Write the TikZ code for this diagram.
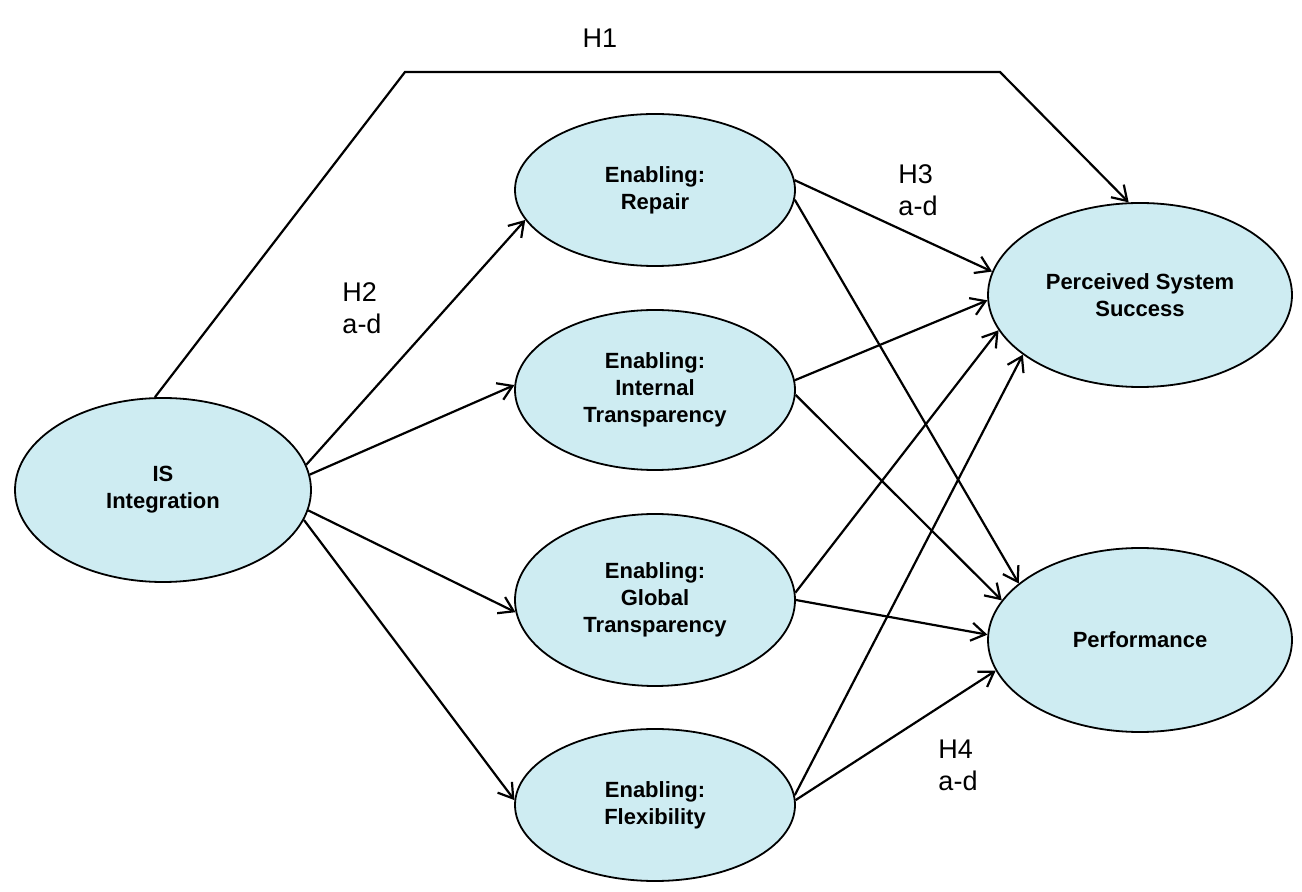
\documentclass[tikz,border=0pt]{standalone}
\usepackage{fontspec}
\setmainfont{Liberation Sans}
\usetikzlibrary{shapes.geometric,arrows.meta}
\definecolor{fillc}{RGB}{206,236,242}
\begin{document}
\begin{tikzpicture}[x=0.5pt,y=-0.5pt,
  ell/.style={ellipse,draw=black,line width=0.9pt,fill=fillc,inner sep=0pt,align=center,font=\bfseries\fontsize{11}{13.5}\selectfont},
  arr/.style={-{Straight Barb[length=7pt,width=9pt]},line width=1.1pt},
  lab/.style={font=\fontsize{13.5}{16}\selectfont,align=left}]
\useasboundingbox (0,0) rectangle (1302,892);
\node[ell,minimum width=148pt,minimum height=92pt] (is) at (163,490) {IS\\Integration};
\node[ell,minimum width=140pt,minimum height=76pt] (rep) at (655,190) {Enabling:\\Repair};
\node[ell,minimum width=140pt,minimum height=80pt] (int) at (655,390) {Enabling:\\Internal\\Transparency};
\node[ell,minimum width=140pt,minimum height=86pt] (glo) at (655,600) {Enabling:\\Global\\Transparency};
\node[ell,minimum width=140pt,minimum height=76pt] (fle) at (655,805) {Enabling:\\Flexibility};
\node[ell,minimum width=152pt,minimum height=92pt] (pss) at (1140,295) {Perceived System\\Success};
\node[ell,minimum width=152pt,minimum height=92pt] (per) at (1140,640) {Performance};
\coordinate (k1) at (405,72);
\coordinate (k2) at (1000,72);
\draw[arr] (is.95) -- (k1) -- (k2) -- (pss.97);
\draw[arr] (is.10) -- (rep.193);
\draw[arr] (is.6) -- (int.178);
\draw[arr] (is.-8) -- (glo.185);
\draw[arr] (is.-12) -- (fle.178);
\draw[arr] (rep.4) -- (pss.171);
\draw[arr] (rep.-4) -- (per.155);
\draw[arr] (int.4) -- (pss.182);
\draw[arr] (int.-2) -- (per.164);
\draw[arr] (glo.3) -- (pss.194);
\draw[arr] (glo.0) -- (per.178);
\draw[arr] (fle.4) -- (pss.207);
\draw[arr] (fle.2) -- (per.192);
\node[lab] (h1) at (600,38) {H1};
\node[lab] (h2) at (362,308) {H2\\a-d};
\node[lab] (h3) at (918,190) {H3\\a-d};
\node[lab] (h4) at (958,765) {H4\\a-d};
\end{tikzpicture}
\end{document}
